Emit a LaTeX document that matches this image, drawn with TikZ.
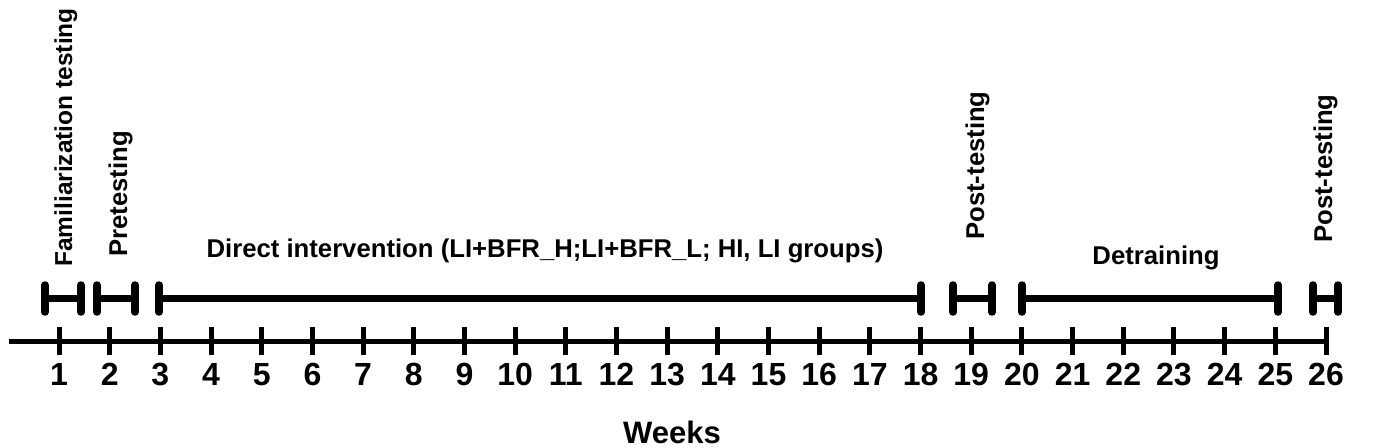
\documentclass[tikz,border=0pt]{standalone}
\usepackage{fontspec}
\setmainfont{Liberation Sans}
\begin{document}
\begin{tikzpicture}[x=1pt,y=-1pt,
  axisline/.style={line width=5pt},
  tickline/.style={line width=5pt},
  barline/.style={line width=6.5pt},
  capline/.style={line width=7.5pt,line cap=round},
  numlabel/.style={font=\fontsize{32}{36}\selectfont\bfseries,anchor=base,inner sep=0pt},
  phaselabel/.style={font=\fontsize{25.7}{30}\selectfont\bfseries,inner sep=0pt},
  vlabel/.style={phaselabel,rotate=90,anchor=base west}]
\useasboundingbox (0,0) rectangle (1389,447);
% axis
\coordinate (axL) at (9,341);
\coordinate (axR) at (1326,341);
\draw[axisline] (axL) -- (axR);
\foreach \w in {1,...,26}{
  \pgfmathsetmacro{\xx}{59+(\w-1)*50.68}
  \coordinate (t\w a) at (\xx,327);
  \coordinate (t\w b) at (\xx,355);
  \draw[tickline] (t\w a) -- (t\w b);
  \node[numlabel] (n\w) at (\xx,385.5) {\w};
}
\node[font=\fontsize{31}{34}\selectfont\bfseries,anchor=base,inner sep=0pt] (weeks) at (672,443) {Weeks};
% bars
\foreach \name/\a/\b in {fam/45/81, pre/97/135, dir/159/921, post1/953/992, det/1022/1278, post2/1313/1338}{
  \coordinate (\name L) at (\a,298.5);
  \coordinate (\name R) at (\b,298.5);
  \coordinate (\name Lt) at (\a,285);
  \coordinate (\name Lb) at (\a,312);
  \coordinate (\name Rt) at (\b,285);
  \coordinate (\name Rb) at (\b,312);
  \draw[barline] (\name L) -- (\name R);
  \draw[capline] (\name Lt) -- (\name Lb);
  \draw[capline] (\name Rt) -- (\name Rb);
}
% labels
\node[vlabel,font=\fontsize{24.5}{30}\selectfont\bfseries] (lfam) at (72,267) {Familiarization testing};
\node[vlabel] (lpre) at (127,257) {Pretesting};
\node[vlabel] (lpost1) at (984,240) {Post-testing};
\node[vlabel] (lpost2) at (1332,243) {Post-testing};
\node[phaselabel,anchor=base] (ldir) at (545,257) {Direct intervention (LI+BFR\_H;LI+BFR\_L; HI, LI groups)};
\node[phaselabel,anchor=base] (ldet) at (1156,264) {Detraining};
\end{tikzpicture}
\end{document}
